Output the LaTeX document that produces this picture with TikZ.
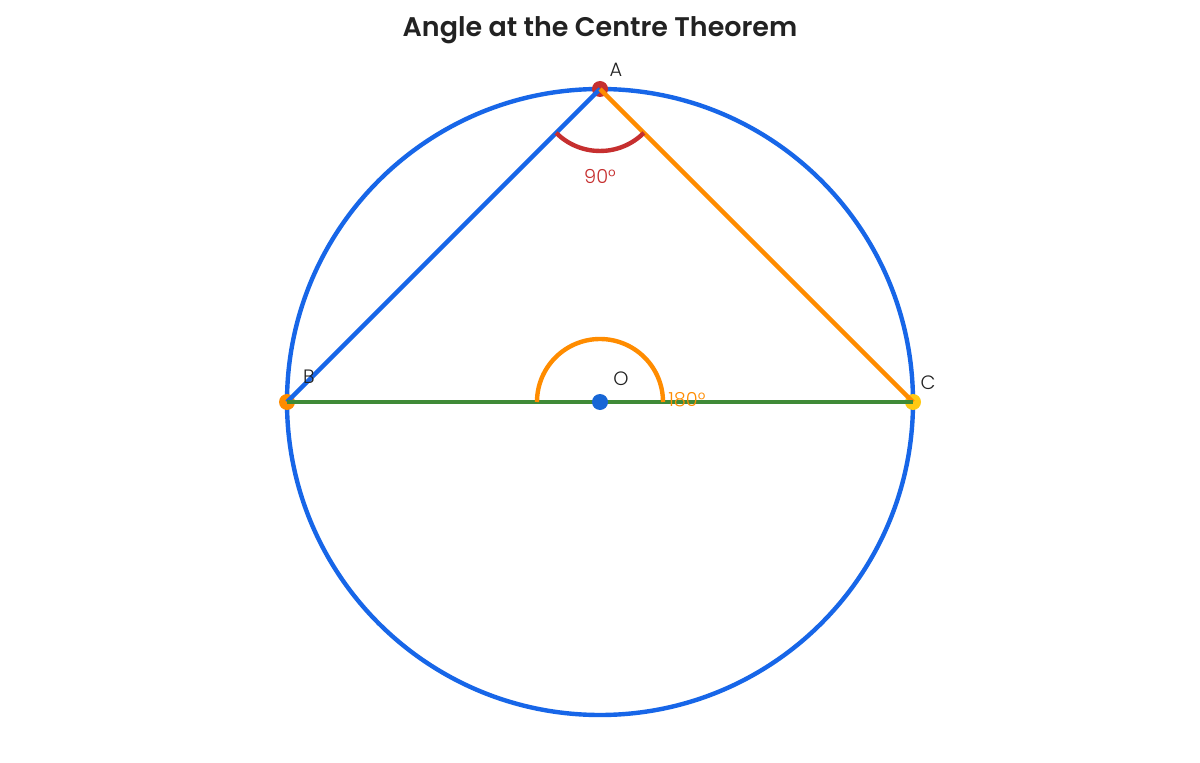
\documentclass[tikz,border=0pt]{standalone}
\usepackage{fontspec}
\setmainfont{Poppins}
\newfontfamily\titlefont{Poppins}[UprightFont=* SemiBold]
\newfontfamily\labelfont{Poppins}[UprightFont=* Light]
\definecolor{cblue}{HTML}{1766E8}
\definecolor{corange}{HTML}{FF8C00}
\definecolor{cgreen}{HTML}{3F8A37}
\definecolor{cred}{HTML}{C62F2F}
\definecolor{cyellow}{HTML}{FFC913}
\definecolor{cdot}{HTML}{1766D6}
\definecolor{ctext}{HTML}{222222}
\tikzset{
  thick line/.style={line width=3.3pt},
  dotmark/.style={circle, inner sep=0pt, minimum size=12pt},
  ptlabel/.style={font=\labelfont\fontsize{14.5}{16}\selectfont, text=ctext, inner sep=0pt},
  anglabel/.style={font=\labelfont\fontsize{14.5}{16}\selectfont, inner sep=0pt},
}
\begin{document}
\begin{tikzpicture}[x=0.75pt,y=-0.75pt]
\path[use as bounding box, fill=white] (0,0) rectangle (1200,763);
\node[font=\titlefont\fontsize{20.2}{23}\selectfont, text=ctext, inner sep=0pt] (title) at (600,30) {Angle at the Centre Theorem};
\coordinate (O) at (600,402);
\coordinate (A) at (600,89);
\coordinate (B) at (287,402);
\coordinate (C) at (913,402);
% circle
\draw[cblue, thick line] (O) circle[radius=313*0.75pt];
% dots A, B, C
\node[dotmark, fill=cred] (dA) at (A) {};
\node[dotmark, fill=corange] (dB) at (B) {};
\node[dotmark, fill=cyellow] (dC) at (C) {};
% triangle sides
\draw[cblue, thick line] (A) -- (B);
\draw[corange, thick line] (A) -- (C);
\draw[cgreen, thick line] (B) -- (C);
% angle arcs
\draw[cred, thick line] ([shift={(-135:62*0.75pt)}]A) arc[start angle=-135, end angle=-45, radius=62*0.75pt];
\draw[corange, thick line] ([shift={(0:63*0.75pt)}]O) arc[start angle=0, end angle=180, radius=63*0.75pt];
% centre dot
\node[dotmark, fill=cdot] (dO) at (O) {};
% labels
\node[ptlabel] (lA) at (616,70) {A};
\node[ptlabel] (lB) at (309,377) {B};
\node[ptlabel] (lC) at (928,383) {C};
\node[ptlabel] (lO) at (621,379) {O};
\node[anglabel, text=cred] (l90) at (600,176) {90°};
\node[anglabel, text=corange, anchor=west] (l180) at (668,400) {180°};
\end{tikzpicture}
\end{document}
